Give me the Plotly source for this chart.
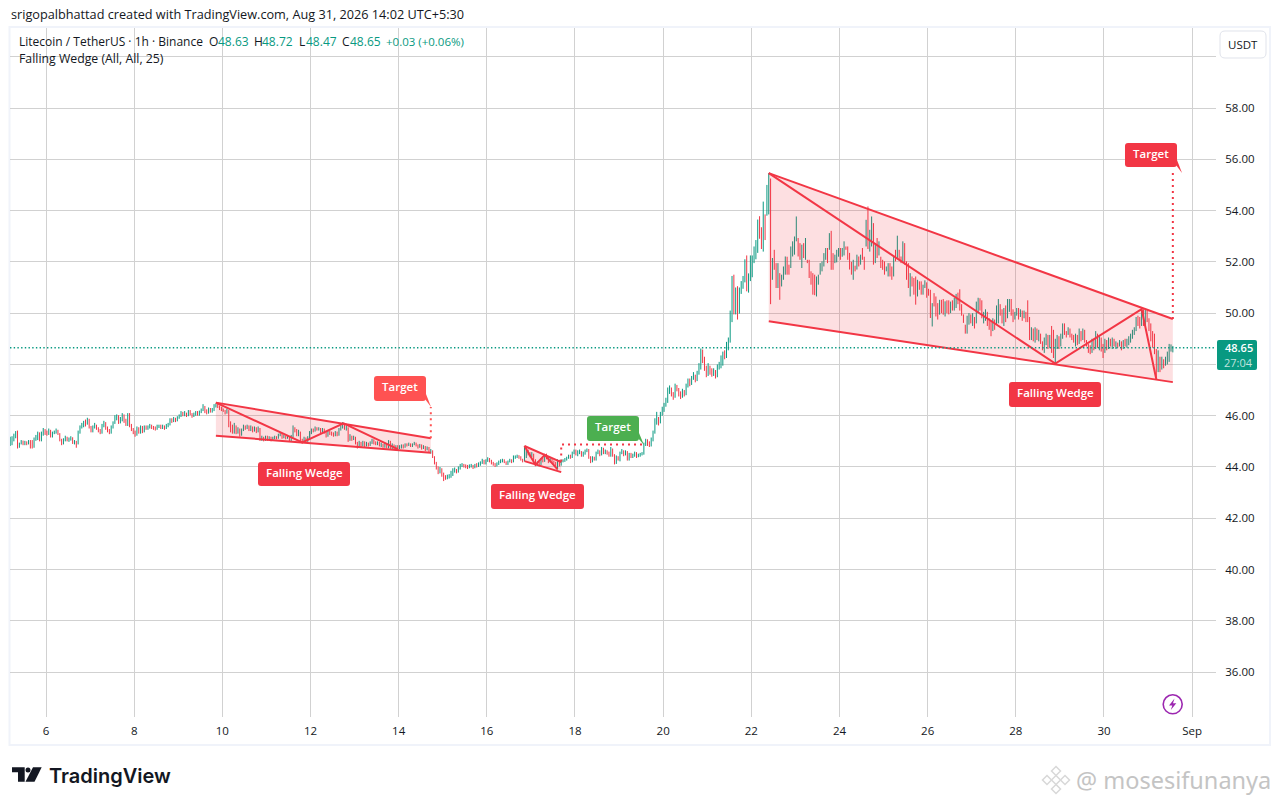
import pandas as pd
import plotly.graph_objects as go

# LTC/USDT hourly candles, one row per day, first candle Aug 5 04:30
closes = [
    44.95,45.08,45.22,45.28,44.80,44.85,45.00,44.92,44.95,44.92,45.00,44.80,44.80,45.08,45.20,45.25,45.05,45.30,45.42,45.35,
    45.28,45.42,45.20,45.32,45.35,45.42,45.30,45.05,44.92,45.05,45.15,45.05,45.10,45.15,44.95,44.98,44.90,45.35,45.55,45.60,45.72,45.70,45.85,45.55,
    45.42,45.55,45.62,45.50,45.42,45.35,45.62,45.72,45.50,45.42,45.35,45.55,45.72,45.88,46.00,45.75,45.85,46.02,45.80,45.65,46.05,45.65,45.48,45.35,
    45.25,45.50,45.35,45.55,45.38,45.55,45.50,45.55,45.62,45.55,45.50,45.50,45.58,45.60,45.52,45.60,45.50,45.62,45.65,45.85,45.80,45.88,45.82,45.92,
    46.00,46.10,46.02,46.08,46.00,46.18,46.08,45.98,46.05,46.12,46.05,46.12,46.22,46.35,46.15,46.12,46.25,46.18,46.22,46.40,46.42,46.38,46.30,46.25,
    46.20,46.12,46.22,45.62,45.62,45.40,45.60,45.35,45.48,45.25,45.45,45.60,45.52,45.60,45.45,45.55,45.40,45.52,45.38,45.50,45.10,45.12,45.08,45.18,
    45.10,45.15,45.05,45.12,45.18,45.12,45.25,45.28,45.15,45.20,45.12,45.18,45.05,45.20,45.45,45.42,45.25,45.35,45.05,44.98,45.12,45.00,45.15,45.32,
    45.45,45.40,45.52,45.48,45.50,45.38,45.48,45.35,45.20,45.38,45.30,45.30,45.22,45.35,45.25,45.48,45.55,45.65,45.50,45.55,45.05,45.20,45.10,45.15,
    44.95,44.80,44.95,44.85,44.98,44.85,44.92,44.85,44.95,45.05,44.95,44.90,44.95,44.85,44.88,44.80,44.90,44.78,45.00,44.75,44.85,44.72,44.80,44.72,
    44.78,44.82,44.78,44.88,44.85,44.90,44.82,44.88,44.92,44.85,44.78,44.85,44.72,44.80,44.68,44.75,44.58,44.60,44.40,44.15,43.98,43.82,43.92,43.72,
    43.58,43.55,43.62,43.62,43.72,43.82,43.88,43.82,43.92,44.05,44.08,44.05,44.02,43.98,44.02,44.05,44.00,44.08,44.05,44.12,44.15,44.28,44.15,44.25,
    44.30,44.22,44.15,44.12,44.06,44.10,44.18,44.22,44.28,44.20,44.12,44.20,44.28,44.22,44.38,44.40,44.42,44.38,44.30,44.25,44.38,44.62,44.55,44.45,
    44.50,44.28,44.12,44.15,44.12,44.30,44.25,44.42,44.38,44.22,44.30,44.20,44.15,44.08,44.25,44.10,44.22,44.25,44.28,44.35,44.42,44.38,44.55,44.62,
    44.50,44.58,44.60,44.45,44.52,44.62,44.68,44.38,44.22,44.35,44.30,44.55,44.62,44.50,44.72,44.55,44.62,44.55,44.45,44.70,44.45,44.15,44.38,44.30,
    44.55,44.62,44.50,44.58,44.30,44.50,44.40,44.45,44.55,44.42,44.45,44.50,44.52,44.85,45.00,44.95,44.85,45.05,45.35,45.75,45.85,45.75,46.05,46.20,
    46.40,46.55,46.95,47.05,46.85,46.75,47.15,47.05,46.85,46.75,46.95,46.85,47.15,47.35,47.25,47.45,47.55,47.40,47.65,47.85,48.45,48.25,47.85,47.60,
    47.85,47.75,47.65,47.75,47.55,47.85,47.95,48.10,48.45,48.25,48.75,49.00,50.00,51.45,50.05,50.80,50.00,50.85,51.00,51.30,51.95,50.90,51.30,52.00,
    52.05,52.50,52.65,53.55,53.10,52.90,53.75,53.05,54.80,55.30,52.00,52.05,51.70,51.05,51.85,50.75,51.35,51.70,52.15,51.60,51.55,52.45,52.65,52.90,
    53.55,52.30,52.15,52.55,52.20,52.75,52.00,51.40,51.15,50.80,50.78,51.10,51.45,51.85,51.95,52.25,52.50,52.00,52.95,51.75,51.75,51.98,52.25,52.38,
    52.10,52.45,52.70,52.50,52.10,51.75,51.50,52.05,51.70,52.20,52.15,52.25,52.10,51.75,53.50,52.55,53.20,53.70,51.95,52.65,52.20,52.75,51.80,51.72,
    51.50,51.80,51.90,51.50,51.35,52.15,52.05,52.80,52.10,51.98,52.75,51.90,51.35,51.00,51.50,51.05,50.75,50.40,51.25,50.95,50.75,51.05,51.22,50.90,
    50.70,49.85,50.35,50.30,49.90,49.78,50.45,50.40,50.00,50.40,50.35,50.05,50.35,50.15,50.45,50.60,50.40,50.15,49.95,49.65,49.40,49.75,49.90,49.75,
    49.85,49.60,50.15,50.45,50.20,49.85,49.90,50.00,49.65,49.60,49.35,49.70,49.55,50.00,50.30,49.95,49.65,50.05,49.85,50.30,50.40,50.10,49.80,49.95,
    50.15,49.95,50.10,49.85,49.95,49.85,49.70,48.95,49.25,48.95,49.20,49.05,49.15,48.85,48.65,48.85,49.10,48.70,48.95,48.45,48.25,48.85,49.10,48.75,
    49.15,49.55,49.25,49.20,49.35,49.10,49.05,48.85,48.95,48.85,49.20,49.00,49.35,48.95,48.75,48.65,48.55,48.85,48.65,49.20,48.90,49.00,48.75,48.55,
    48.85,48.70,48.90,48.75,48.95,48.75,48.80,48.75,48.85,48.70,48.85,48.75,48.90,48.95,49.05,49.25,49.40,49.75,49.70,49.60,50.10,49.60,49.90,49.75,
    49.40,49.20,49.00,48.45,47.55,48.45,47.95,48.10,47.90,48.15,48.20,48.55,48.63,48.65,
]
highs = [
    45.18,45.20,45.30,45.40,45.42,44.95,45.05,45.03,45.02,45.00,45.05,45.05,45.05,45.15,45.25,45.38,45.35,45.38,45.52,45.48,
    45.42,45.50,45.45,45.38,45.42,45.50,45.45,45.32,45.10,45.12,45.22,45.18,45.15,45.20,45.16,45.05,45.02,45.42,45.62,45.72,45.80,45.85,45.92,45.88,
    45.60,45.62,45.72,45.65,45.55,45.48,45.68,45.80,45.75,45.58,45.48,45.62,45.78,46.02,46.05,46.02,45.95,46.10,46.05,45.88,46.10,46.10,45.68,45.52,
    45.42,45.58,45.55,45.62,45.60,45.62,45.62,45.62,45.68,45.65,45.60,45.58,45.65,45.65,45.65,45.65,45.62,45.68,45.72,45.90,45.90,45.95,45.92,45.98,
    46.05,46.18,46.15,46.18,46.12,46.22,46.22,46.10,46.12,46.18,46.18,46.20,46.28,46.45,46.38,46.25,46.32,46.30,46.30,46.45,46.48,46.50,46.40,46.35,
    46.28,46.22,46.28,46.22,45.78,45.65,45.72,45.62,45.55,45.50,45.50,45.65,45.62,45.65,45.62,45.62,45.58,45.58,45.55,45.58,45.52,45.22,45.18,45.22,
    45.22,45.20,45.18,45.18,45.22,45.20,45.30,45.35,45.30,45.25,45.22,45.22,45.20,45.25,45.62,45.55,45.48,45.45,45.38,45.10,45.18,45.15,45.20,45.40,
    45.50,45.50,45.58,45.55,45.55,45.52,45.52,45.50,45.38,45.42,45.42,45.38,45.35,45.40,45.38,45.52,45.62,45.75,45.70,45.62,45.55,45.28,45.22,45.22,
    45.18,44.98,45.02,44.98,45.02,45.00,44.98,44.95,45.00,45.10,45.08,45.00,45.00,44.98,44.95,44.90,44.95,44.92,45.05,45.02,44.92,44.88,44.85,44.85,
    44.85,44.88,44.88,44.92,44.92,44.95,44.92,44.92,44.98,44.95,44.88,44.90,44.88,44.85,44.82,44.80,44.78,44.70,44.65,44.42,44.20,44.02,44.00,43.95,
    43.78,43.68,43.70,43.72,43.85,43.95,43.98,43.92,44.02,44.12,44.15,44.12,44.10,44.08,44.10,44.12,44.08,44.12,44.15,44.18,44.22,44.32,44.28,44.30,
    44.38,44.35,44.28,44.20,44.15,44.18,44.25,44.30,44.32,44.30,44.22,44.25,44.32,44.30,44.45,44.45,44.48,44.46,44.42,44.32,44.82,44.80,44.68,44.58,
    44.58,44.52,44.30,44.22,44.20,44.35,44.35,44.48,44.52,44.40,44.35,44.32,44.25,44.20,44.30,44.28,44.28,44.30,44.35,44.40,44.48,44.48,44.60,44.68,
    44.68,44.65,44.68,44.62,44.60,44.68,44.72,44.70,44.42,44.42,44.40,44.60,44.68,44.65,44.78,44.75,44.68,44.65,44.60,44.78,44.72,44.50,44.45,44.42,
    44.60,44.70,44.65,44.65,44.62,44.55,44.55,44.52,44.60,44.58,44.52,44.55,44.58,44.95,45.10,45.08,45.00,45.15,45.42,45.90,46.15,45.95,46.15,46.35,
    46.50,46.70,47.10,47.18,47.10,46.92,47.25,47.20,47.08,46.95,47.05,47.00,47.25,47.45,47.45,47.55,47.70,47.60,47.75,48.05,48.62,48.58,48.30,47.95,
    48.05,47.95,47.85,47.85,47.78,48.00,48.10,48.35,48.50,48.55,48.88,49.05,50.10,51.45,51.50,51.00,51.05,51.00,51.25,51.45,52.10,52.25,51.55,52.25,
    52.25,52.60,52.85,53.65,53.78,53.35,54.35,53.85,55.00,55.46,55.25,52.15,52.47,51.95,51.95,51.56,51.50,51.82,52.21,52.20,51.89,52.60,52.80,52.99,
    53.77,52.93,52.73,52.67,52.73,52.93,52.08,52.08,51.63,51.56,51.50,51.43,51.50,51.95,52.02,52.34,52.54,52.54,53.12,53.21,52.34,52.28,52.47,52.54,
    52.54,52.54,52.80,52.60,52.60,52.35,52.00,52.08,51.85,52.28,52.21,52.28,52.54,52.20,53.64,54.16,53.25,53.77,53.51,52.73,52.93,52.80,52.20,52.08,
    52.02,51.82,51.95,51.95,51.82,52.21,52.47,53.02,52.47,52.21,52.80,52.73,52.02,51.95,51.56,51.43,51.37,51.43,51.30,51.24,51.24,51.11,51.28,51.20,
    50.95,50.91,50.39,50.78,50.65,50.39,50.52,50.52,50.55,50.46,50.50,50.50,50.45,50.50,50.60,50.75,50.80,50.93,50.35,49.95,49.55,49.90,50.00,49.95,
    50.00,49.85,50.45,50.60,50.58,50.50,50.05,50.15,50.05,49.80,49.70,49.80,49.75,50.30,50.55,50.35,50.15,50.20,50.30,50.55,50.55,50.55,50.15,50.05,
    50.20,50.20,50.15,50.10,50.10,50.05,50.50,49.85,49.45,49.40,49.45,49.40,49.35,49.20,48.90,49.05,49.20,49.15,49.15,49.50,49.35,49.00,49.15,49.10,
    49.20,49.60,49.60,49.30,49.45,49.40,49.20,49.15,49.20,49.15,49.40,49.30,49.40,49.35,48.95,48.80,48.75,49.00,49.00,49.30,49.20,49.10,49.05,48.80,
    49.00,48.95,49.05,49.00,49.05,49.00,48.90,48.85,48.95,48.90,48.95,49.00,49.00,49.10,49.20,49.35,49.45,49.85,49.90,49.85,50.18,50.15,50.12,50.10,
    49.80,49.60,49.30,49.20,48.60,48.55,48.30,48.30,48.20,48.30,48.50,48.80,48.78,48.72,
]
lows = [
    44.82,44.85,45.00,45.12,44.72,44.75,44.88,44.85,44.85,44.85,44.88,44.72,44.72,44.75,45.02,45.05,45.00,45.00,45.22,45.25,
    45.22,45.25,45.15,45.15,45.28,45.30,45.25,45.00,44.85,44.88,45.00,45.00,44.98,45.03,44.90,44.88,44.75,44.88,45.30,45.50,45.55,45.58,45.65,45.50,
    45.35,45.35,45.50,45.45,45.35,45.28,45.30,45.55,45.45,45.35,45.28,45.30,45.50,45.68,45.82,45.68,45.70,45.78,45.72,45.60,45.60,45.55,45.40,45.28,
    45.18,45.22,45.30,45.30,45.32,45.35,45.45,45.45,45.50,45.48,45.45,45.42,45.45,45.52,45.48,45.48,45.45,45.48,45.55,45.62,45.72,45.75,45.75,45.78,
    45.88,45.95,45.98,45.98,45.95,45.98,46.02,45.92,45.95,46.00,46.00,46.00,46.10,46.18,46.10,46.05,46.08,46.12,46.12,46.18,46.32,46.30,46.22,46.18,
    46.15,46.05,46.08,45.55,45.35,45.30,45.30,45.28,45.30,45.18,45.22,45.40,45.45,45.48,45.40,45.40,45.35,45.38,45.32,45.35,45.02,45.02,45.00,45.02,
    45.02,45.05,45.00,45.02,45.08,45.08,45.10,45.20,45.10,45.12,45.08,45.10,45.00,45.00,45.15,45.35,45.20,45.20,45.00,44.92,44.95,44.95,44.98,45.12,
    45.28,45.35,45.38,45.42,45.42,45.32,45.35,45.30,45.15,45.18,45.25,45.22,45.18,45.20,45.20,45.22,45.42,45.50,45.45,45.42,44.98,45.02,45.02,45.05,
    44.88,44.72,44.75,44.78,44.80,44.78,44.80,44.80,44.82,44.90,44.88,44.85,44.85,44.80,44.78,44.75,44.75,44.72,44.72,44.68,44.70,44.68,44.68,44.68,
    44.70,44.72,44.72,44.75,44.80,44.82,44.78,44.78,44.85,44.80,44.72,44.75,44.68,44.70,44.62,44.65,44.55,44.52,44.35,44.10,43.90,43.72,43.75,43.62,
    43.45,43.50,43.52,43.55,43.58,43.65,43.78,43.75,43.78,43.90,44.00,43.98,43.95,43.92,43.95,43.98,43.92,43.95,43.98,44.00,44.05,44.12,44.10,44.10,
    44.20,44.18,44.10,44.05,44.00,44.02,44.08,44.15,44.18,44.15,44.08,44.08,44.18,44.15,44.18,44.32,44.35,44.32,44.25,44.18,44.22,44.35,44.45,44.38,
    44.38,44.20,44.05,44.05,44.02,44.08,44.18,44.20,44.30,44.15,44.18,44.15,44.08,43.98,43.90,44.02,44.05,44.18,44.20,44.25,44.32,44.32,44.35,44.50,
    44.45,44.42,44.50,44.40,44.40,44.48,44.58,44.32,44.15,44.18,44.25,44.25,44.50,44.42,44.45,44.50,44.50,44.48,44.40,44.40,44.40,44.10,44.12,44.25,
    44.22,44.50,44.42,44.45,44.25,44.25,44.35,44.35,44.40,44.35,44.38,44.40,44.45,44.48,44.82,44.82,44.78,44.80,45.00,45.30,45.65,45.62,45.70,46.00,
    46.15,46.35,46.50,46.85,46.75,46.62,46.70,46.95,46.75,46.65,46.70,46.75,46.80,47.10,47.15,47.20,47.40,47.30,47.35,47.60,47.80,48.05,47.75,47.50,
    47.55,47.60,47.52,47.55,47.45,47.50,47.80,47.85,47.95,48.20,48.25,48.55,48.85,49.65,49.95,49.95,49.75,49.98,50.75,50.95,51.20,50.85,50.80,51.25,
    51.40,51.95,52.10,52.35,52.90,52.50,52.40,52.85,53.80,53.85,50.35,51.30,51.69,50.98,50.98,50.52,51.04,51.30,51.50,51.50,51.50,51.76,52.21,52.28,
    52.80,52.21,52.08,51.76,52.15,52.08,51.95,51.37,51.11,50.72,50.70,50.65,51.11,51.50,51.63,51.82,52.08,51.95,52.47,51.69,51.69,51.95,51.98,52.20,
    52.08,52.20,52.25,52.47,52.08,51.70,51.50,51.30,51.63,51.70,51.82,51.89,52.08,51.69,52.60,52.50,52.40,52.60,51.89,51.95,52.15,52.25,51.76,51.69,
    51.50,51.63,51.43,51.43,51.30,51.43,52.02,52.15,52.08,51.95,51.95,51.89,51.30,50.98,50.65,51.04,50.72,50.33,50.65,50.91,50.72,50.72,50.98,50.60,
    50.68,49.81,49.48,50.26,49.87,49.75,49.94,50.00,49.94,49.87,50.00,49.95,50.00,50.10,50.10,50.20,50.35,50.10,49.90,49.62,49.20,49.20,49.55,49.60,
    49.50,49.40,49.60,50.00,50.10,49.80,49.60,49.70,49.50,49.35,49.10,49.30,49.35,49.55,49.60,49.90,49.60,49.50,49.65,49.80,50.05,49.90,49.65,49.75,
    49.90,49.75,49.85,49.70,49.80,49.65,49.65,48.95,48.95,48.90,48.85,48.95,48.90,48.80,48.55,48.45,48.75,48.60,48.65,48.45,48.25,48.02,48.60,48.60,
    48.70,49.00,49.15,49.05,49.15,49.05,48.95,48.85,48.70,48.75,48.80,48.90,48.95,48.85,48.70,48.45,48.40,48.45,48.55,48.60,48.65,48.55,48.50,48.25,
    48.45,48.55,48.60,48.70,48.60,48.70,48.60,48.65,48.70,48.55,48.60,48.70,48.65,48.75,48.85,49.00,49.15,49.30,49.50,49.40,49.50,49.50,49.50,49.65,
    49.30,48.90,48.65,48.40,47.45,47.70,47.70,47.80,47.85,47.95,48.00,48.10,48.50,48.47,
]
opens = [44.90] + closes[:-1]
times = pd.date_range("2026-08-05 04:30", periods=len(closes), freq="h")

# Falling wedge drawings (time, price)
wedge_x = [
    ["2026-08-09 20:30", "2026-08-14 17:30"],
    ["2026-08-16 20:30", "2026-08-17 16:30"],
    ["2026-08-22 09:30", "2026-08-31 13:30"],
]
wedge_upper = [[46.51, 45.12], [44.82, 44.19], [55.46, 49.77]]
wedge_lower = [[45.22, 44.56], [44.23, 43.80], [49.68, 47.31]]
zigzag_x = [
    ["2026-08-09 20:30", "2026-08-11 19:30", "2026-08-12 18:00", "2026-08-13 23:30"],
    ["2026-08-16 20:30", "2026-08-17 02:30", "2026-08-17 07:30", "2026-08-17 14:30"],
    ["2026-08-22 09:30", "2026-08-28 21:30", "2026-08-30 20:30", "2026-08-31 04:30"],
]
zigzag_y = [
    [46.51, 44.96, 45.70, 44.70],
    [44.82, 44.08, 44.47, 43.91],
    [55.46, 48.03, 50.16, 47.42],
]
# Dotted target paths
target_x = [
    ["2026-08-14 17:30", "2026-08-14 17:30"],
    ["2026-08-17 16:30", "2026-08-17 16:30", "2026-08-19 13:30"],
    ["2026-08-31 13:30", "2026-08-31 13:30"],
]
target_y = [[45.12, 46.34], [44.21, 44.88, 44.88], [49.77, 55.54]]
target_colors = ["#FF5252", "#F23645", "#F23645"]

price_ticks = [36, 38, 40, 42, 44, 46, 48, 50, 52, 54, 56, 58, 60]
price_labels = ["36.00", "38.00", "40.00", "42.00", "44.00", "46.00", "48.00", "50.00",
                "52.00", "54.00", "56.00", "58.00", ""]
date_ticks = ["2026-08-06", "2026-08-08", "2026-08-10", "2026-08-12", "2026-08-14", "2026-08-16", "2026-08-18",
              "2026-08-20", "2026-08-22", "2026-08-24", "2026-08-26", "2026-08-28", "2026-08-30", "2026-09-01"]
date_labels = ["6", "8", "10", "12", "14", "16", "18", "20", "22", "24", "26", "28", "30", "Sep"]
last_price = 48.65

UP = "#089981"
DOWN = "#F23645"
TEXT = "#131722"
FONT = "Open Sans"

# plot area in page pixels, everything drawn outside the axes is placed with these
LEFT, RIGHT, TOP, BOTTOM = 10, 1216, 28, 717


def px(x):
    return (x - LEFT) / (RIGHT - LEFT)


def py(y):
    return (BOTTOM - y) / (BOTTOM - TOP)


def pth(points, close=True):
    s = " ".join(("M" if i == 0 else "L") + f"{px(x):.5f},{py(y):.5f}" for i, (x, y) in enumerate(points))
    return s + (" Z" if close else "")


def round_rect(x0, y0, x1, y1, r=3):
    s = f"M{px(x0 + r):.5f},{py(y0):.5f} L{px(x1 - r):.5f},{py(y0):.5f} "
    s += f"Q{px(x1):.5f},{py(y0):.5f} {px(x1):.5f},{py(y0 + r):.5f} "
    s += f"L{px(x1):.5f},{py(y1 - r):.5f} Q{px(x1):.5f},{py(y1):.5f} {px(x1 - r):.5f},{py(y1):.5f} "
    s += f"L{px(x0 + r):.5f},{py(y1):.5f} Q{px(x0):.5f},{py(y1):.5f} {px(x0):.5f},{py(y1 - r):.5f} "
    s += f"L{px(x0):.5f},{py(y0 + r):.5f} Q{px(x0):.5f},{py(y0):.5f} {px(x0 + r):.5f},{py(y0):.5f} Z"
    return s


shapes = []
annotations = []


def add_box(x0, y0, x1, y1, fill, line=None, r=3):
    shapes.append(dict(type="path", path=round_rect(x0, y0, x1, y1, r), xref="paper", yref="paper",
                       fillcolor=fill, line=dict(color=line or fill, width=1 if line else 0)))


def add_poly(points, fill):
    shapes.append(dict(type="path", path=pth(points), xref="paper", yref="paper",
                       fillcolor=fill, line=dict(width=0)))


def add_text(x, y, text, size=12, color=TEXT, anchor="left", family=FONT, weight=None):
    annotations.append(dict(x=px(x), y=py(y), xref="paper", yref="paper", text=text, showarrow=False,
                            xanchor=anchor, yanchor="middle", borderpad=0,
                            font=dict(family=family, size=size, color=color, weight=weight)))


fig = go.Figure()

# at 1.84 px an hour the candles are single pixel sticks, so ohlc with no side ticks draws them best
fig.add_trace(go.Ohlc(
    x=times, open=opens, high=highs, low=lows, close=closes,
    increasing=dict(line=dict(color=UP, width=1)),
    decreasing=dict(line=dict(color=DOWN, width=1)),
    tickwidth=0, showlegend=False, hoverinfo="skip",
))

for xs, up, low, zx, zy in zip(wedge_x, wedge_upper, wedge_lower, zigzag_x, zigzag_y):
    fig.add_trace(go.Scatter(x=[xs[0], xs[1], xs[1], xs[0]], y=[up[0], up[1], low[1], low[0]],
                             mode="lines", fill="toself", fillcolor="rgba(242,54,69,0.16)",
                             line=dict(width=0), showlegend=False, hoverinfo="skip"))
    for ys in (up, low):
        fig.add_trace(go.Scatter(x=xs, y=ys, mode="lines", line=dict(color=DOWN, width=2),
                                 showlegend=False, hoverinfo="skip"))
    fig.add_trace(go.Scatter(x=zx, y=zy, mode="lines", line=dict(color=DOWN, width=2),
                             showlegend=False, hoverinfo="skip"))

for tx, ty, col in zip(target_x, target_y, target_colors):
    fig.add_trace(go.Scatter(x=tx, y=ty, mode="lines", line=dict(color=col, width=2, dash="2px,4px"),
                             showlegend=False, hoverinfo="skip"))

# last price line
shapes.append(dict(type="line", xref="paper", x0=0, x1=1, yref="y", y0=last_price, y1=last_price,
                   line=dict(color=UP, width=1.4, dash="1.4px,2.3px")))

# frame around the chart
shapes.append(dict(type="rect", xref="paper", yref="paper", x0=px(9.5), x1=px(1270), y0=py(745), y1=py(27),
                   line=dict(color="#f0f3fa", width=2), layer="below"))

# drawing labels
for x0, y0, x1, y1, txt, col in [
    (258, 462, 350, 486, "Falling Wedge", "#F23645"),
    (491, 484, 584, 509, "Falling Wedge", "#F23645"),
    (1009, 382, 1101, 407, "Falling Wedge", "#F23645"),
    (374, 376, 426, 401, "Target", "#FF5252"),
    (587, 416, 639, 441, "Target", "#4CAF50"),
    (1125, 143, 1177, 167, "Target", "#F23645"),
]:
    add_box(x0, y0, x1, y1, col)
    add_text((x0 + x1) / 2, (y0 + y1) / 2 - 1.8, txt, size=11.5, color="white", anchor="center", weight=600)

add_poly([(425, 399), (426, 394), (431, 407)], "#FF5252")
add_poly([(638, 438), (639, 433), (644, 445)], "#4CAF50")
add_poly([(1176, 165), (1177, 160), (1182, 173)], "#F23645")

# currency button and live price tag
add_box(1220, 31, 1266, 58, "white", line="#e0e3eb", r=5)
add_text(1243, 44.5, "USDT", size=11.5, anchor="center")
add_box(1217, 340, 1257, 370, UP, r=2)
add_text(1239, 347.5, "48.65", size=11, color="white", anchor="center", weight=600)
add_text(1238.5, 362, "27:04", size=11, color="rgba(255,255,255,0.75)", anchor="center")

# header and legend text
add_text(9.5, 14, "srigopalbhattad created with TradingView.com, Aug 31, 2026 14:02 UTC+5:30", size=12.7)
add_text(17.5, 41.5, "Litecoin / TetherUS · 1h · Binance", size=12)
add_text(208, 41.5, "O", size=12)
add_text(217, 41.5, "48.63", size=12, color=UP)
add_text(253, 41.5, "H", size=12)
add_text(261, 41.5, "48.72", size=12, color=UP)
add_text(298, 41.5, "L", size=12)
add_text(305, 41.5, "48.47", size=12, color=UP)
add_text(341, 41.5, "C", size=12)
add_text(349, 41.5, "48.65", size=12, color=UP)
add_text(385, 41.5, "+0.03 (+0.06%)", size=11.5, color=UP)
add_text(17.5, 58.5, "Falling Wedge (All, All, 25)", size=12.3)

# TradingView logo
add_poly([(12, 767.3), (24.7, 767.3), (24.7, 781.7), (18, 781.7), (18, 772.2), (12, 772.2)], "#131722")
shapes.append(dict(type="circle", xref="paper", yref="paper", x0=px(25.5), x1=px(30.5), y0=py(772.5), y1=py(767.5),
                   fillcolor="#131722", line=dict(width=0)))
add_poly([(33, 767.3), (41.7, 767.3), (34.5, 781.7), (25.5, 781.7)], "#131722")
add_text(48, 775.5, "TradingView", size=20, family="Inter", weight=600, color="#131722")

# lightning icon
shapes.append(dict(type="circle", xref="paper", yref="paper", x0=px(1163.2), x1=px(1182.2), y0=py(713.8), y1=py(694.8),
                   line=dict(color="#9C27B0", width=1.6)))
add_poly([(1174.5, 698.5), (1169, 705.5), (1172.3, 705.5), (1170.8, 710), (1176.3, 703.3), (1173, 703.3)], "#9C27B0")

# watermark
for cx, cy, r in [(1056, 771, 4.5), (1047, 780, 4.5), (1065, 780, 4.5), (1056, 789, 4.5), (1056, 780, 4.5)]:
    shapes.append(dict(type="path", path=pth([(cx, cy - r), (cx + r, cy), (cx, cy + r), (cx - r, cy)]),
                       xref="paper", yref="paper", fillcolor="white", line=dict(color="#d8d8d8", width=1.5)))
add_text(1075, 780, "@ mosesifunanya", size=23.5, color="#c4c4c4", family="Noto Sans")

fig.update_layout(
    width=1280, height=805, autosize=False,
    margin=dict(l=LEFT, r=1280 - RIGHT, t=TOP, b=805 - BOTTOM, pad=0),
    paper_bgcolor="white", plot_bgcolor="white",
    font=dict(family=FONT, color=TEXT, size=11.5),
    showlegend=False, shapes=shapes, annotations=annotations,
    xaxis=dict(
        type="date", range=["2026-08-05 04:24", "2026-09-01 13:00"],
        tickmode="array", tickvals=date_ticks, ticktext=date_labels,
        showgrid=True, gridcolor="#d1d1d1", gridwidth=1, zeroline=False, showline=False,
        ticks="outside", ticklen=3, tickcolor="rgba(0,0,0,0)", rangeslider=dict(visible=False),
    ),
    yaxis=dict(
        side="right", range=[34.25, 61.12],
        tickmode="array", tickvals=price_ticks, ticktext=price_labels,
        showgrid=True, gridcolor="#d1d1d1", gridwidth=1, zeroline=False, showline=False,
        ticks="outside", ticklen=6, tickcolor="rgba(0,0,0,0)",
    ),
)

fig.write_html("out.html", config=dict(displayModeBar=False),
               post_script="document.body.style.margin='0';document.body.style.overflow='hidden';")
